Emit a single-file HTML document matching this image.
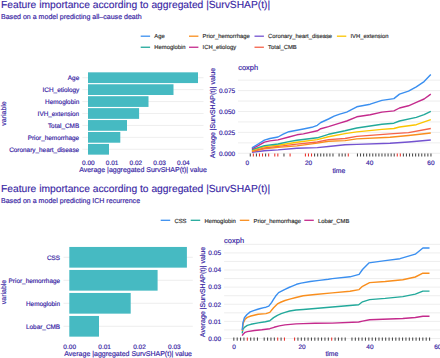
<!DOCTYPE html>
<html><head><meta charset="utf-8"><style>
html,body{margin:0;padding:0;background:#fff;width:440px;height:358px;overflow:hidden}
svg{display:block;text-rendering:geometricPrecision;font-family:"Liberation Sans",sans-serif}
</style></head><body>
<svg width="440" height="358" viewBox="0 0 440 358">
<text x="1" y="7.5" font-size="10.25" fill="#371ea3" stroke="#371ea3" stroke-width="0.12" text-anchor="start">Feature importance according to aggregated |SurvSHAP(t)|</text>
<text x="1" y="18.5" font-size="7.05" fill="#371ea3" stroke="#371ea3" stroke-width="0.17" text-anchor="start">Based on a model predicting all–cause death</text>
<line x1="140.7" y1="36.2" x2="150.1" y2="36.2" stroke="#3a8ff0" stroke-width="1.3"/>
<text x="154.29999999999998" y="38.2" font-size="5.85" fill="#2b2b2b" stroke="#2b2b2b" stroke-width="0.15" text-anchor="start">Age</text>
<line x1="189" y1="36.2" x2="198.4" y2="36.2" stroke="#f98e1d" stroke-width="1.3"/>
<text x="202.6" y="38.2" font-size="5.85" fill="#2b2b2b" stroke="#2b2b2b" stroke-width="0.15" text-anchor="start">Prior_hemorrhage</text>
<line x1="254.5" y1="36.2" x2="263.9" y2="36.2" stroke="#7453d0" stroke-width="1.3"/>
<text x="268.1" y="38.2" font-size="5.85" fill="#2b2b2b" stroke="#2b2b2b" stroke-width="0.15" text-anchor="start">Coronary_heart_disease</text>
<line x1="336.9" y1="36.2" x2="346.29999999999995" y2="36.2" stroke="#fbc500" stroke-width="1.3"/>
<text x="350.5" y="38.2" font-size="5.85" fill="#2b2b2b" stroke="#2b2b2b" stroke-width="0.15" text-anchor="start">IVH_extension</text>
<line x1="140.7" y1="47.25" x2="150.1" y2="47.25" stroke="#22a99b" stroke-width="1.3"/>
<text x="154.29999999999998" y="49.25" font-size="5.85" fill="#2b2b2b" stroke="#2b2b2b" stroke-width="0.15" text-anchor="start">Hemoglobin</text>
<line x1="189" y1="47.25" x2="198.4" y2="47.25" stroke="#c42a8c" stroke-width="1.3"/>
<text x="202.6" y="49.25" font-size="5.85" fill="#2b2b2b" stroke="#2b2b2b" stroke-width="0.15" text-anchor="start">ICH_etiology</text>
<line x1="254.5" y1="47.25" x2="263.9" y2="47.25" stroke="#f5634a" stroke-width="1.3"/>
<text x="268.1" y="49.25" font-size="5.85" fill="#2b2b2b" stroke="#2b2b2b" stroke-width="0.15" text-anchor="start">Total_CMB</text>
<line x1="82.4" y1="77.7" x2="203.5" y2="77.7" stroke="#e6e6e6" stroke-width="0.7"/>
<rect x="88" y="72.33" width="110" height="10.74" fill="#46bac2"/>
<text x="79.2" y="80.0" font-size="6.4" fill="#371ea3" stroke="#371ea3" stroke-width="0.17" text-anchor="end">Age</text>
<line x1="82.4" y1="89.63" x2="203.5" y2="89.63" stroke="#e6e6e6" stroke-width="0.7"/>
<rect x="88" y="84.25999999999999" width="85.5" height="10.74" fill="#46bac2"/>
<text x="79.2" y="91.92999999999999" font-size="6.4" fill="#371ea3" stroke="#371ea3" stroke-width="0.17" text-anchor="end">ICH_etiology</text>
<line x1="82.4" y1="101.56" x2="203.5" y2="101.56" stroke="#e6e6e6" stroke-width="0.7"/>
<rect x="88" y="96.19" width="60.5" height="10.74" fill="#46bac2"/>
<text x="79.2" y="103.86" font-size="6.4" fill="#371ea3" stroke="#371ea3" stroke-width="0.17" text-anchor="end">Hemoglobin</text>
<line x1="82.4" y1="113.49000000000001" x2="203.5" y2="113.49000000000001" stroke="#e6e6e6" stroke-width="0.7"/>
<rect x="88" y="108.12" width="51.099999999999994" height="10.74" fill="#46bac2"/>
<text x="79.2" y="115.79" font-size="6.4" fill="#371ea3" stroke="#371ea3" stroke-width="0.17" text-anchor="end">IVH_extension</text>
<line x1="82.4" y1="125.42" x2="203.5" y2="125.42" stroke="#e6e6e6" stroke-width="0.7"/>
<rect x="88" y="120.05" width="39" height="10.74" fill="#46bac2"/>
<text x="79.2" y="127.72" font-size="6.4" fill="#371ea3" stroke="#371ea3" stroke-width="0.17" text-anchor="end">Total_CMB</text>
<line x1="82.4" y1="137.35" x2="203.5" y2="137.35" stroke="#e6e6e6" stroke-width="0.7"/>
<rect x="88" y="131.98" width="32.3" height="10.74" fill="#46bac2"/>
<text x="79.2" y="139.65" font-size="6.4" fill="#371ea3" stroke="#371ea3" stroke-width="0.17" text-anchor="end">Prior_hemorrhage</text>
<line x1="82.4" y1="149.28" x2="203.5" y2="149.28" stroke="#e6e6e6" stroke-width="0.7"/>
<rect x="88" y="143.91" width="21" height="10.74" fill="#46bac2"/>
<text x="79.2" y="151.58" font-size="6.4" fill="#371ea3" stroke="#371ea3" stroke-width="0.17" text-anchor="end">Coronary_heart_disease</text>
<text x="88.4" y="164.7" font-size="6.5" fill="#371ea3" stroke="#371ea3" stroke-width="0.17" text-anchor="middle">0.00</text>
<text x="112.15" y="164.7" font-size="6.5" fill="#371ea3" stroke="#371ea3" stroke-width="0.17" text-anchor="middle">0.01</text>
<text x="135.9" y="164.7" font-size="6.5" fill="#371ea3" stroke="#371ea3" stroke-width="0.17" text-anchor="middle">0.02</text>
<text x="159.65" y="164.7" font-size="6.5" fill="#371ea3" stroke="#371ea3" stroke-width="0.17" text-anchor="middle">0.03</text>
<text x="183.4" y="164.7" font-size="6.5" fill="#371ea3" stroke="#371ea3" stroke-width="0.17" text-anchor="middle">0.04</text>
<text x="143" y="172.4" font-size="7.0" fill="#371ea3" stroke="#371ea3" stroke-width="0.17" text-anchor="middle">Average |aggregated SurvSHAP(t)| value</text>
<text x="6.2" y="113.5" font-size="7.0" fill="#371ea3" stroke="#371ea3" stroke-width="0.17" text-anchor="middle" transform="rotate(-90 6.2 113.5)">variable</text>
<line x1="238" y1="153.3" x2="440" y2="153.3" stroke="#e6e6e6" stroke-width="0.7"/>
<line x1="238" y1="142.85000000000002" x2="440" y2="142.85000000000002" stroke="#e6e6e6" stroke-width="0.7"/>
<line x1="238" y1="132.4" x2="440" y2="132.4" stroke="#e6e6e6" stroke-width="0.7"/>
<line x1="238" y1="121.95000000000002" x2="440" y2="121.95000000000002" stroke="#e6e6e6" stroke-width="0.7"/>
<line x1="238" y1="111.50000000000001" x2="440" y2="111.50000000000001" stroke="#e6e6e6" stroke-width="0.7"/>
<line x1="238" y1="101.05000000000001" x2="440" y2="101.05000000000001" stroke="#e6e6e6" stroke-width="0.7"/>
<line x1="238" y1="90.60000000000002" x2="440" y2="90.60000000000002" stroke="#e6e6e6" stroke-width="0.7"/>
<line x1="238" y1="80.15000000000002" x2="440" y2="80.15000000000002" stroke="#e6e6e6" stroke-width="0.7"/>
<text x="235.2" y="155.70000000000002" font-size="6.5" fill="#371ea3" stroke="#371ea3" stroke-width="0.17" text-anchor="end">0.000</text>
<text x="235.2" y="134.8" font-size="6.5" fill="#371ea3" stroke="#371ea3" stroke-width="0.17" text-anchor="end">0.025</text>
<text x="235.2" y="113.90000000000002" font-size="6.5" fill="#371ea3" stroke="#371ea3" stroke-width="0.17" text-anchor="end">0.050</text>
<text x="235.2" y="93.00000000000003" font-size="6.5" fill="#371ea3" stroke="#371ea3" stroke-width="0.17" text-anchor="end">0.075</text>
<text x="247.3" y="164.7" font-size="6.5" fill="#371ea3" stroke="#371ea3" stroke-width="0.17" text-anchor="middle">0</text>
<text x="308.5" y="164.7" font-size="6.5" fill="#371ea3" stroke="#371ea3" stroke-width="0.17" text-anchor="middle">20</text>
<text x="369.70000000000005" y="164.7" font-size="6.5" fill="#371ea3" stroke="#371ea3" stroke-width="0.17" text-anchor="middle">40</text>
<text x="430.90000000000003" y="164.7" font-size="6.5" fill="#371ea3" stroke="#371ea3" stroke-width="0.17" text-anchor="middle">60</text>
<text x="338.8" y="172.8" font-size="6.8" fill="#371ea3" stroke="#371ea3" stroke-width="0.17" text-anchor="middle">time</text>
<text x="214.6" y="113" font-size="7.0" fill="#371ea3" stroke="#371ea3" stroke-width="0.17" text-anchor="middle" transform="rotate(-90 214.6 113)">Average |SurvSHAP(t)| value</text>
<text x="238.2" y="69.7" font-size="7.5" fill="#371ea3" stroke="#371ea3" stroke-width="0.17" text-anchor="start">coxph</text>
<rect x="249.76" y="153.5" width="1.05" height="3.0" fill="#474747"/>
<rect x="252.82" y="153.5" width="1.05" height="3.0" fill="#e8302a"/>
<rect x="255.89" y="153.5" width="1.05" height="3.0" fill="#474747"/>
<rect x="258.95" y="153.5" width="1.05" height="3.0" fill="#e8302a"/>
<rect x="262.01" y="153.5" width="1.05" height="3.0" fill="#e8302a"/>
<rect x="265.07" y="153.5" width="1.05" height="3.0" fill="#474747"/>
<rect x="268.13" y="153.5" width="1.05" height="3.0" fill="#e8302a"/>
<rect x="274.26" y="153.5" width="1.05" height="3.0" fill="#e8302a"/>
<rect x="277.32" y="153.5" width="1.05" height="3.0" fill="#e8302a"/>
<rect x="283.44" y="153.5" width="1.05" height="3.0" fill="#474747"/>
<rect x="289.57" y="153.5" width="1.05" height="3.0" fill="#e8302a"/>
<rect x="304.88" y="153.5" width="1.05" height="3.0" fill="#e8302a"/>
<rect x="307.94" y="153.5" width="1.05" height="3.0" fill="#e8302a"/>
<rect x="311.0" y="153.5" width="1.05" height="3.0" fill="#e8302a"/>
<rect x="314.06" y="153.5" width="1.05" height="3.0" fill="#474747"/>
<rect x="317.13" y="153.5" width="1.05" height="3.0" fill="#474747"/>
<rect x="320.19" y="153.5" width="1.05" height="3.0" fill="#474747"/>
<rect x="323.25" y="153.5" width="1.05" height="3.0" fill="#474747"/>
<rect x="326.31" y="153.5" width="1.05" height="3.0" fill="#474747"/>
<rect x="329.37" y="153.5" width="1.05" height="3.0" fill="#474747"/>
<rect x="332.44" y="153.5" width="1.05" height="3.0" fill="#474747"/>
<rect x="338.56" y="153.5" width="1.05" height="3.0" fill="#474747"/>
<rect x="341.62" y="153.5" width="1.05" height="3.0" fill="#474747"/>
<rect x="344.68" y="153.5" width="1.05" height="3.0" fill="#474747"/>
<rect x="347.75" y="153.5" width="1.05" height="3.0" fill="#e8302a"/>
<rect x="356.93" y="153.5" width="1.05" height="3.0" fill="#474747"/>
<rect x="359.99" y="153.5" width="1.05" height="3.0" fill="#474747"/>
<rect x="363.06" y="153.5" width="1.05" height="3.0" fill="#474747"/>
<rect x="366.12" y="153.5" width="1.05" height="3.0" fill="#474747"/>
<rect x="369.18" y="153.5" width="1.05" height="3.0" fill="#474747"/>
<rect x="372.24" y="153.5" width="1.05" height="3.0" fill="#474747"/>
<rect x="375.3" y="153.5" width="1.05" height="3.0" fill="#474747"/>
<rect x="378.37" y="153.5" width="1.05" height="3.0" fill="#474747"/>
<rect x="381.43" y="153.5" width="1.05" height="3.0" fill="#474747"/>
<rect x="384.49" y="153.5" width="1.05" height="3.0" fill="#474747"/>
<rect x="387.55" y="153.5" width="1.05" height="3.0" fill="#474747"/>
<rect x="390.61" y="153.5" width="1.05" height="3.0" fill="#474747"/>
<rect x="393.68" y="153.5" width="1.05" height="3.0" fill="#474747"/>
<rect x="396.74" y="153.5" width="1.05" height="3.0" fill="#e8302a"/>
<rect x="399.8" y="153.5" width="1.05" height="3.0" fill="#e8302a"/>
<rect x="402.86" y="153.5" width="1.05" height="3.0" fill="#474747"/>
<rect x="405.92" y="153.5" width="1.05" height="3.0" fill="#474747"/>
<rect x="408.99" y="153.5" width="1.05" height="3.0" fill="#474747"/>
<rect x="412.05" y="153.5" width="1.05" height="3.0" fill="#474747"/>
<rect x="415.11" y="153.5" width="1.05" height="3.0" fill="#474747"/>
<rect x="418.17" y="153.5" width="1.05" height="3.0" fill="#474747"/>
<rect x="421.23" y="153.5" width="1.05" height="3.0" fill="#474747"/>
<rect x="424.3" y="153.5" width="1.05" height="3.0" fill="#474747"/>
<rect x="427.36" y="153.5" width="1.05" height="3.0" fill="#474747"/>
<rect x="430.42" y="153.5" width="1.05" height="3.0" fill="#474747"/>
<polyline points="251.90,152.20 264.40,150.70 278.00,149.90 296.90,148.20 317.30,147.60 328.50,146.50 345.00,144.80 356.80,144.40 390.00,143.30 408.50,142.00 430.80,140.00" fill="none" stroke="#7453d0" stroke-width="1.4" stroke-linejoin="round" stroke-linecap="butt"/>
<polyline points="251.90,151.50 264.40,148.70 278.00,147.40 296.90,145.90 317.30,143.10 328.50,141.30 345.00,140.60 356.80,138.90 390.00,137.20 408.50,135.50 430.80,133.00" fill="none" stroke="#f98e1d" stroke-width="1.4" stroke-linejoin="round" stroke-linecap="butt"/>
<polyline points="251.90,151.00 264.40,147.90 278.00,146.40 296.90,144.10 317.30,142.00 328.50,139.60 345.00,138.50 356.80,136.40 390.00,133.90 408.50,132.60 430.80,128.50" fill="none" stroke="#f5634a" stroke-width="1.4" stroke-linejoin="round" stroke-linecap="butt"/>
<polyline points="251.90,150.30 264.40,146.60 278.00,145.20 296.90,142.20 317.30,139.60 328.50,136.80 345.00,133.60 356.80,131.90 381.90,129.40 393.90,128.50 399.50,127.00 416.30,124.70 430.80,119.60" fill="none" stroke="#fbc500" stroke-width="1.4" stroke-linejoin="round" stroke-linecap="butt"/>
<polyline points="251.90,149.60 264.40,145.60 278.00,144.00 288.90,141.60 296.90,140.20 317.30,137.80 328.50,134.30 345.00,130.80 356.80,128.00 381.90,124.30 393.90,123.20 399.50,121.00 416.30,117.40 424.10,114.70 430.80,111.30" fill="none" stroke="#22a99b" stroke-width="1.4" stroke-linejoin="round" stroke-linecap="butt"/>
<polyline points="251.90,148.80 258.20,145.60 264.40,142.10 269.90,140.90 278.00,139.90 288.90,137.00 296.90,134.80 303.40,133.90 317.30,130.80 320.80,128.70 328.50,126.60 339.70,123.20 346.70,121.00 356.80,116.80 370.20,114.80 381.90,112.10 393.90,110.90 399.50,108.00 408.50,105.80 416.30,102.40 424.10,99.00 430.80,94.10" fill="none" stroke="#c42a8c" stroke-width="1.4" stroke-linejoin="round" stroke-linecap="butt"/>
<polyline points="251.90,147.90 258.20,144.00 264.40,140.10 269.90,138.50 278.00,137.00 283.20,134.20 288.90,131.70 296.90,130.20 303.40,129.00 311.80,127.30 317.30,125.30 320.80,122.50 328.50,119.00 334.10,116.20 339.70,114.10 346.70,112.10 356.80,106.80 370.20,104.20 381.90,100.40 393.90,98.60 399.50,94.10 408.50,91.20 416.30,86.80 424.10,81.60 430.80,74.50" fill="none" stroke="#3a8ff0" stroke-width="1.4" stroke-linejoin="round" stroke-linecap="butt"/>
<text x="1" y="191.8" font-size="10.25" fill="#371ea3" stroke="#371ea3" stroke-width="0.12" text-anchor="start">Feature importance according to aggregated |SurvSHAP(t)|</text>
<text x="1" y="202.8" font-size="7.05" fill="#371ea3" stroke="#371ea3" stroke-width="0.17" text-anchor="start">Based on a model predicting ICH recurrence</text>
<line x1="160.7" y1="220.3" x2="170.2" y2="220.3" stroke="#3a8ff0" stroke-width="1.3"/>
<text x="174.39999999999998" y="222.5" font-size="5.9" fill="#2b2b2b" stroke="#2b2b2b" stroke-width="0.15" text-anchor="start">CSS</text>
<line x1="190.7" y1="220.3" x2="200.2" y2="220.3" stroke="#22a99b" stroke-width="1.3"/>
<text x="204.39999999999998" y="222.5" font-size="5.9" fill="#2b2b2b" stroke="#2b2b2b" stroke-width="0.15" text-anchor="start">Hemoglobin</text>
<line x1="239.8" y1="220.3" x2="249.3" y2="220.3" stroke="#f98e1d" stroke-width="1.3"/>
<text x="253.5" y="222.5" font-size="5.9" fill="#2b2b2b" stroke="#2b2b2b" stroke-width="0.15" text-anchor="start">Prior_hemorrhage</text>
<line x1="304.3" y1="220.3" x2="313.8" y2="220.3" stroke="#c42a8c" stroke-width="1.3"/>
<text x="318.0" y="222.5" font-size="5.9" fill="#2b2b2b" stroke="#2b2b2b" stroke-width="0.15" text-anchor="start">Lobar_CMB</text>
<line x1="63.5" y1="257.3" x2="192.8" y2="257.3" stroke="#e6e6e6" stroke-width="0.7"/>
<rect x="69.3" y="246.95000000000002" width="117.60000000000001" height="20.7" fill="#46bac2"/>
<text x="60.1" y="259.6" font-size="6.4" fill="#371ea3" stroke="#371ea3" stroke-width="0.17" text-anchor="end">CSS</text>
<line x1="63.5" y1="280.3" x2="192.8" y2="280.3" stroke="#e6e6e6" stroke-width="0.7"/>
<rect x="69.3" y="269.95" width="88.3" height="20.7" fill="#46bac2"/>
<text x="60.1" y="282.6" font-size="6.4" fill="#371ea3" stroke="#371ea3" stroke-width="0.17" text-anchor="end">Prior_hemorrhage</text>
<line x1="63.5" y1="303.3" x2="192.8" y2="303.3" stroke="#e6e6e6" stroke-width="0.7"/>
<rect x="69.3" y="292.95" width="61.39999999999999" height="20.7" fill="#46bac2"/>
<text x="60.1" y="305.6" font-size="6.4" fill="#371ea3" stroke="#371ea3" stroke-width="0.17" text-anchor="end">Hemoglobin</text>
<line x1="63.5" y1="326.3" x2="192.8" y2="326.3" stroke="#e6e6e6" stroke-width="0.7"/>
<rect x="69.3" y="315.95" width="29.700000000000003" height="20.7" fill="#46bac2"/>
<text x="60.1" y="328.6" font-size="6.4" fill="#371ea3" stroke="#371ea3" stroke-width="0.17" text-anchor="end">Lobar_CMB</text>
<text x="69.7" y="348.6" font-size="6.5" fill="#371ea3" stroke="#371ea3" stroke-width="0.17" text-anchor="middle">0.00</text>
<text x="104.6" y="348.6" font-size="6.5" fill="#371ea3" stroke="#371ea3" stroke-width="0.17" text-anchor="middle">0.01</text>
<text x="139.5" y="348.6" font-size="6.5" fill="#371ea3" stroke="#371ea3" stroke-width="0.17" text-anchor="middle">0.02</text>
<text x="174.39999999999998" y="348.6" font-size="6.5" fill="#371ea3" stroke="#371ea3" stroke-width="0.17" text-anchor="middle">0.03</text>
<text x="128.15" y="356.2" font-size="7.0" fill="#371ea3" stroke="#371ea3" stroke-width="0.17" text-anchor="middle">Average |aggregated SurvSHAP(t)| value</text>
<text x="6.3" y="292" font-size="7.0" fill="#371ea3" stroke="#371ea3" stroke-width="0.17" text-anchor="middle" transform="rotate(-90 6.3 292)">variable</text>
<line x1="224.1" y1="338.5" x2="440" y2="338.5" stroke="#e6e6e6" stroke-width="0.7"/>
<line x1="224.1" y1="329.94" x2="440" y2="329.94" stroke="#e6e6e6" stroke-width="0.7"/>
<line x1="224.1" y1="321.38" x2="440" y2="321.38" stroke="#e6e6e6" stroke-width="0.7"/>
<line x1="224.1" y1="312.82" x2="440" y2="312.82" stroke="#e6e6e6" stroke-width="0.7"/>
<line x1="224.1" y1="304.26" x2="440" y2="304.26" stroke="#e6e6e6" stroke-width="0.7"/>
<line x1="224.1" y1="295.7" x2="440" y2="295.7" stroke="#e6e6e6" stroke-width="0.7"/>
<line x1="224.1" y1="287.14" x2="440" y2="287.14" stroke="#e6e6e6" stroke-width="0.7"/>
<line x1="224.1" y1="278.58" x2="440" y2="278.58" stroke="#e6e6e6" stroke-width="0.7"/>
<line x1="224.1" y1="270.02" x2="440" y2="270.02" stroke="#e6e6e6" stroke-width="0.7"/>
<line x1="224.1" y1="261.46" x2="440" y2="261.46" stroke="#e6e6e6" stroke-width="0.7"/>
<line x1="224.1" y1="252.89999999999998" x2="440" y2="252.89999999999998" stroke="#e6e6e6" stroke-width="0.7"/>
<line x1="224.1" y1="244.33999999999997" x2="440" y2="244.33999999999997" stroke="#e6e6e6" stroke-width="0.7"/>
<text x="221" y="340.8" font-size="6.5" fill="#371ea3" stroke="#371ea3" stroke-width="0.17" text-anchor="end">0.00</text>
<text x="221" y="323.68" font-size="6.5" fill="#371ea3" stroke="#371ea3" stroke-width="0.17" text-anchor="end">0.01</text>
<text x="221" y="306.56" font-size="6.5" fill="#371ea3" stroke="#371ea3" stroke-width="0.17" text-anchor="end">0.02</text>
<text x="221" y="289.44" font-size="6.5" fill="#371ea3" stroke="#371ea3" stroke-width="0.17" text-anchor="end">0.03</text>
<text x="221" y="272.32" font-size="6.5" fill="#371ea3" stroke="#371ea3" stroke-width="0.17" text-anchor="end">0.04</text>
<text x="221" y="255.2" font-size="6.5" fill="#371ea3" stroke="#371ea3" stroke-width="0.17" text-anchor="end">0.05</text>
<text x="234.1" y="348.6" font-size="6.5" fill="#371ea3" stroke="#371ea3" stroke-width="0.17" text-anchor="middle">0</text>
<text x="302.0" y="348.6" font-size="6.5" fill="#371ea3" stroke="#371ea3" stroke-width="0.17" text-anchor="middle">20</text>
<text x="369.9" y="348.6" font-size="6.5" fill="#371ea3" stroke="#371ea3" stroke-width="0.17" text-anchor="middle">40</text>
<text x="437.8" y="348.6" font-size="6.5" fill="#371ea3" stroke="#371ea3" stroke-width="0.17" text-anchor="middle">60</text>
<text x="331.9" y="356.4" font-size="6.8" fill="#371ea3" stroke="#371ea3" stroke-width="0.17" text-anchor="middle">time</text>
<text x="204.6" y="292" font-size="7.0" fill="#371ea3" stroke="#371ea3" stroke-width="0.17" text-anchor="middle" transform="rotate(-90 204.6 292)">Average |SurvSHAP(t)| value</text>
<text x="224.1" y="242.5" font-size="7.5" fill="#371ea3" stroke="#371ea3" stroke-width="0.17" text-anchor="start">coxph</text>
<rect x="233.3" y="337.5" width="1.05" height="3.2" fill="#474747"/>
<rect x="236.68" y="337.5" width="1.05" height="3.2" fill="#474747"/>
<rect x="240.05" y="337.5" width="1.05" height="3.2" fill="#474747"/>
<rect x="243.43" y="337.5" width="1.05" height="3.2" fill="#474747"/>
<rect x="246.8" y="337.5" width="1.05" height="3.2" fill="#e8302a"/>
<rect x="250.18" y="337.5" width="1.05" height="3.2" fill="#474747"/>
<rect x="253.55" y="337.5" width="1.05" height="3.2" fill="#474747"/>
<rect x="256.92" y="337.5" width="1.05" height="3.2" fill="#474747"/>
<rect x="263.67" y="337.5" width="1.05" height="3.2" fill="#474747"/>
<rect x="267.05" y="337.5" width="1.05" height="3.2" fill="#474747"/>
<rect x="270.42" y="337.5" width="1.05" height="3.2" fill="#474747"/>
<rect x="273.8" y="337.5" width="1.05" height="3.2" fill="#474747"/>
<rect x="277.17" y="337.5" width="1.05" height="3.2" fill="#e8302a"/>
<rect x="280.55" y="337.5" width="1.05" height="3.2" fill="#474747"/>
<rect x="283.92" y="337.5" width="1.05" height="3.2" fill="#e8302a"/>
<rect x="294.05" y="337.5" width="1.05" height="3.2" fill="#e8302a"/>
<rect x="297.42" y="337.5" width="1.05" height="3.2" fill="#474747"/>
<rect x="300.8" y="337.5" width="1.05" height="3.2" fill="#474747"/>
<rect x="304.17" y="337.5" width="1.05" height="3.2" fill="#474747"/>
<rect x="307.55" y="337.5" width="1.05" height="3.2" fill="#474747"/>
<rect x="310.92" y="337.5" width="1.05" height="3.2" fill="#474747"/>
<rect x="314.3" y="337.5" width="1.05" height="3.2" fill="#474747"/>
<rect x="317.67" y="337.5" width="1.05" height="3.2" fill="#474747"/>
<rect x="321.05" y="337.5" width="1.05" height="3.2" fill="#474747"/>
<rect x="324.42" y="337.5" width="1.05" height="3.2" fill="#474747"/>
<rect x="327.8" y="337.5" width="1.05" height="3.2" fill="#474747"/>
<rect x="331.17" y="337.5" width="1.05" height="3.2" fill="#e8302a"/>
<rect x="334.55" y="337.5" width="1.05" height="3.2" fill="#474747"/>
<rect x="337.92" y="337.5" width="1.05" height="3.2" fill="#474747"/>
<rect x="341.3" y="337.5" width="1.05" height="3.2" fill="#474747"/>
<rect x="344.67" y="337.5" width="1.05" height="3.2" fill="#474747"/>
<rect x="351.42" y="337.5" width="1.05" height="3.2" fill="#474747"/>
<rect x="354.8" y="337.5" width="1.05" height="3.2" fill="#474747"/>
<rect x="358.17" y="337.5" width="1.05" height="3.2" fill="#474747"/>
<rect x="361.55" y="337.5" width="1.05" height="3.2" fill="#474747"/>
<rect x="364.92" y="337.5" width="1.05" height="3.2" fill="#474747"/>
<rect x="368.3" y="337.5" width="1.05" height="3.2" fill="#474747"/>
<rect x="371.67" y="337.5" width="1.05" height="3.2" fill="#474747"/>
<rect x="375.05" y="337.5" width="1.05" height="3.2" fill="#474747"/>
<rect x="378.42" y="337.5" width="1.05" height="3.2" fill="#474747"/>
<rect x="381.8" y="337.5" width="1.05" height="3.2" fill="#474747"/>
<rect x="385.17" y="337.5" width="1.05" height="3.2" fill="#474747"/>
<rect x="388.55" y="337.5" width="1.05" height="3.2" fill="#474747"/>
<rect x="391.92" y="337.5" width="1.05" height="3.2" fill="#474747"/>
<rect x="395.3" y="337.5" width="1.05" height="3.2" fill="#474747"/>
<rect x="398.67" y="337.5" width="1.05" height="3.2" fill="#474747"/>
<rect x="402.05" y="337.5" width="1.05" height="3.2" fill="#474747"/>
<rect x="405.42" y="337.5" width="1.05" height="3.2" fill="#474747"/>
<rect x="408.8" y="337.5" width="1.05" height="3.2" fill="#474747"/>
<rect x="412.17" y="337.5" width="1.05" height="3.2" fill="#474747"/>
<rect x="415.55" y="337.5" width="1.05" height="3.2" fill="#474747"/>
<rect x="418.92" y="337.5" width="1.05" height="3.2" fill="#474747"/>
<rect x="422.3" y="337.5" width="1.05" height="3.2" fill="#474747"/>
<rect x="425.67" y="337.5" width="1.05" height="3.2" fill="#474747"/>
<rect x="429.05" y="337.5" width="1.05" height="3.2" fill="#474747"/>
<polyline points="242.20,335.60 242.90,334.50 245.10,332.30 247.30,331.60 254.50,330.50 261.80,329.80 269.80,328.70 274.10,327.30 279.30,325.90 285.00,324.90 296.00,323.90 303.20,323.60 315.00,323.30 332.30,323.10 358.70,322.00 362.50,321.10 369.60,319.70 402.80,318.50 415.30,317.50 422.90,316.20 429.50,316.20" fill="none" stroke="#c42a8c" stroke-width="1.4" stroke-linejoin="round" stroke-linecap="butt"/>
<polyline points="242.20,333.40 242.90,329.40 244.40,327.30 247.30,325.40 250.90,324.30 258.20,322.90 265.40,321.80 269.80,320.80 273.60,317.60 277.40,315.30 281.20,313.70 285.00,312.40 289.70,311.00 296.00,310.00 303.20,309.50 315.00,308.50 332.30,307.00 358.70,304.70 362.50,301.80 369.60,299.60 385.20,298.40 402.80,296.60 415.30,294.10 422.90,291.10 429.50,291.10" fill="none" stroke="#22a99b" stroke-width="1.4" stroke-linejoin="round" stroke-linecap="butt"/>
<polyline points="242.20,330.90 243.30,322.90 245.10,319.30 247.30,317.40 250.90,316.00 258.20,314.20 266.00,313.60 269.80,312.40 273.60,307.70 277.40,303.90 281.20,302.00 285.00,300.50 289.70,299.10 296.00,297.50 303.20,295.80 315.00,294.50 332.30,292.90 350.00,291.30 359.10,289.60 362.50,286.30 369.60,282.60 385.20,281.50 402.80,279.70 415.30,277.00 422.90,273.20 429.50,273.20" fill="none" stroke="#f98e1d" stroke-width="1.4" stroke-linejoin="round" stroke-linecap="butt"/>
<polyline points="242.30,330.00 242.90,322.90 244.40,317.80 246.80,314.70 250.20,311.90 253.60,310.60 257.00,309.50 260.40,308.50 263.90,307.60 266.00,307.20 268.80,306.20 271.70,302.40 273.20,299.80 275.50,296.30 278.60,292.60 282.00,290.90 285.50,289.20 288.90,287.50 292.30,286.10 296.50,284.30 301.10,283.10 310.20,281.50 319.30,280.40 328.40,279.30 332.30,278.60 350.00,276.80 359.10,274.30 362.50,269.50 368.90,262.90 385.20,260.60 400.00,258.70 415.30,254.20 422.90,248.00 429.50,248.00" fill="none" stroke="#3a8ff0" stroke-width="1.4" stroke-linejoin="round" stroke-linecap="butt"/>
</svg>
</body></html>
